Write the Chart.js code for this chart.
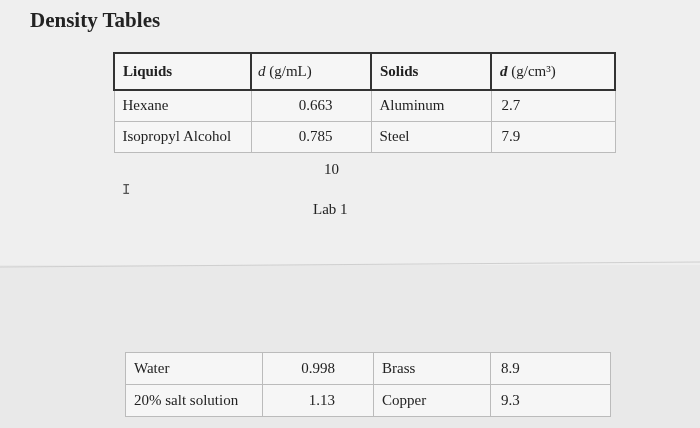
<!DOCTYPE html>
<html><head><meta charset="utf-8">
<script src="https://cdn.jsdelivr.net/npm/chart.js@4"></script>
<style>
body{margin:0;width:700px;height:428px;overflow:hidden;background:#ececec;font-family:"Liberation Serif",serif;color:#222;position:relative}
#bg{position:absolute;left:0;top:0;width:700px;height:428px}
.t{position:absolute;border-collapse:collapse;font-size:15px;table-layout:fixed}
.t td{border:1px solid #bbb;padding:0 8px;background:#f6f6f6;white-space:nowrap}
.abs{position:absolute;font-size:15px}
</style></head><body>
<canvas id="bg" width="700" height="428"></canvas>
<div class="abs" style="left:30px;top:8px;font-size:21px;font-weight:bold">Density Tables</div>
<table class="t" id="t1" style="left:113px;top:52px;width:501px"></table>
<div class="abs" style="left:324px;top:161px">10</div>
<div class="abs" style="left:122px;top:181px;font-family:'DejaVu Sans Mono';font-size:14px;color:#555">I</div>
<div class="abs" style="left:313px;top:201px">Lab 1</div>
<table class="t" id="t2" style="left:125px;top:352px;width:485px"></table>
<script>
const liquids=["Hexane","Isopropyl Alcohol"];
const liquidD=["0.663","0.785"];
const solids=["Aluminum","Steel"];
const solidD=["2.7","7.9"];
const liquids2=["Water","20% salt solution"];
const liquidD2=["0.998","1.13"];
const solids2=["Brass","Copper"];
const solidD2=["8.9","9.3"];
function build(el,rows,header,widths,hh,rh){
  let h="<colgroup>"+widths.map(w=>`<col style="width:${w}px">`).join("")+"</colgroup>";
  if(header){h+=`<tr style="height:${hh}px;font-weight:bold">`+
   `<td style="border:2px solid #333">Liquids</td><td style="border:2px solid #333;font-weight:normal;padding-left:6px"><i>d</i> (g/mL)</td><td style="border:2px solid #333">Solids</td><td style="border:2px solid #333;font-weight:normal"><b><i>d</i></b> (g/cm³)</td></tr>`;}
  rows.forEach(r=>{h+=`<tr style="height:${rh}px"><td>${r[0]}</td><td style="text-align:right;padding-right:38px">${r[1]}</td><td>${r[2]}</td><td style="padding-left:10px">${r[3]}</td></tr>`;});
  el.innerHTML=h;
}
build(document.getElementById('t1'),liquids.map((l,i)=>[l,liquidD[i],solids[i],solidD[i]]),true,[137,120,120,124],37,31);
build(document.getElementById('t2'),liquids2.map((l,i)=>[l,liquidD2[i],solids2[i],solidD2[i]]),false,[137,111,117,120],36,32);
new Chart(document.getElementById('bg'),{type:'line',data:{labels:[],datasets:[]},
 options:{responsive:false,animation:false,plugins:{legend:{display:false}},scales:{x:{display:false},y:{display:false}}},
 plugins:[{id:'paper',beforeDraw(c){const g=c.ctx;g.fillStyle='#efefef';g.fillRect(0,0,700,265);g.fillStyle='#e9e9e9';g.fillRect(0,265,700,163);g.strokeStyle='#cfcfcf';g.beginPath();g.moveTo(0,267);g.lineTo(700,262);g.stroke();}}]});
</script>
</body></html>
